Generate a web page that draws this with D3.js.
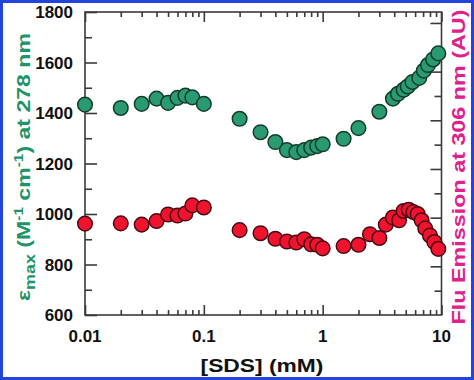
<!DOCTYPE html>
<html><head><meta charset="utf-8">
<script src="https://cdn.jsdelivr.net/npm/d3@7"></script>
<style>html,body{margin:0;padding:0;background:#fff;}svg{display:block;}</style>
</head><body>
<svg id="c" width="474" height="380"></svg>
<script>
const greenX = [0.01,0.02,0.03,0.04,0.05,0.06,0.07,0.08,0.1,0.2,0.3,0.4,0.5,0.6,0.7,0.8,0.9,1.0,1.5,2,3,3.9,4.3,4.8,5.2,5.7,6.5,7.1,7.7,8.5,9.4];
const greenY = [1433,1420,1436,1457,1440,1460,1469,1462,1436,1377,1324,1285,1253,1245,1253,1263,1269,1276,1298,1340,1405,1457,1476,1492,1505,1523,1539,1568,1590,1612,1636];
const redX = [0.01,0.02,0.03,0.04,0.05,0.06,0.07,0.08,0.1,0.2,0.3,0.4,0.5,0.6,0.7,0.8,0.9,1.0,1.5,2,2.5,3,3.4,3.9,4.4,4.8,5.3,5.8,6.3,6.8,7.3,8,8.7,9.4];
const redY = [962,963,958,972,998,994,1002,1034,1026,936,924,902,891,887,900,880,878,864,873,878,920,905,958,986,975,1012,1017,1008,1000,975,943,915,889,862];
const xTickLabels = ["0.01","0.1","1","10"];
const xTickValues = [0.01,0.1,1,10];
const yTickValues = [600,800,1000,1200,1400,1600,1800];
const leftTitle = ["ε","max"," (M","-1"," cm","-1",") at 278 nm"];
const rightTitle = "Flu Emission at 306 nm (AU)";
const xTitle = "[SDS] (mM)";

const W = 474, H = 380;
const L = 85, R = 441.5, T = 12, B = 315;
const font = "'Liberation Sans', Arial, Helvetica, sans-serif";
const svg = d3.select("#c");

// border
svg.append("rect").attr("x",1.5).attr("y",1.5).attr("width",W-3).attr("height",H-3)
  .attr("fill","#fff").attr("stroke","#2243dc").attr("stroke-width",3);

const x = d3.scaleLog().domain([0.01,10]).range([L,R]);
const y = d3.scaleLinear().domain([600,1800]).range([B,T]);
const yR = d3.scaleLinear().domain([0,1245]).range([B,T]);

const axisColor = "#3a3a3a";
const minorX = [];
for (let d=0.01; d<10; d*=10) for (let k=2;k<=9;k++) minorX.push(d*k);

function styleAxis(g){
  g.select(".domain").remove();
  g.selectAll("line").attr("stroke",axisColor).attr("stroke-width",1.6);
}
// bottom
svg.append("g").attr("transform",`translate(0,${B})`)
  .call(d3.axisTop(x).tickValues(xTickValues).tickSize(10).tickFormat(""))
  .call(styleAxis);
svg.append("g").attr("transform",`translate(0,${B})`)
  .call(d3.axisTop(x).tickValues(minorX).tickSize(5).tickFormat(""))
  .call(styleAxis);
// top
svg.append("g").attr("transform",`translate(0,${T})`)
  .call(d3.axisBottom(x).tickValues(xTickValues).tickSize(10).tickFormat(""))
  .call(styleAxis);
svg.append("g").attr("transform",`translate(0,${T})`)
  .call(d3.axisBottom(x).tickValues(minorX).tickSize(5).tickFormat(""))
  .call(styleAxis);
// left
svg.append("g").attr("transform",`translate(${L},0)`)
  .call(d3.axisRight(y).tickValues(yTickValues).tickSize(12).tickFormat(""))
  .call(styleAxis);
svg.append("g").attr("transform",`translate(${L},0)`)
  .call(d3.axisRight(y).tickValues(d3.range(700,1800,200)).tickSize(7).tickFormat(""))
  .call(styleAxis);
// right
svg.append("g").attr("transform",`translate(${R},0)`)
  .call(d3.axisLeft(yR).tickValues(d3.range(200,1245,200)).tickSize(11).tickFormat(""))
  .call(styleAxis);
svg.append("g").attr("transform",`translate(${R},0)`)
  .call(d3.axisLeft(yR).tickValues(d3.range(100,1245,200)).tickSize(7).tickFormat(""))
  .call(styleAxis);

// frame
svg.append("rect").attr("x",L).attr("y",T).attr("width",R-L).attr("height",B-T)
  .attr("fill","none").attr("stroke",axisColor).attr("stroke-width",1.6);

// tick labels
svg.append("g").selectAll("text").data(yTickValues).join("text")
  .attr("x",73).attr("y",d=>y(d)).attr("dy","0.36em").attr("text-anchor","end")
  .attr("font-family",font).attr("font-weight","bold").attr("font-size",17).attr("fill","#111")
  .text(d=>d);
svg.append("g").selectAll("text").data(xTickValues).join("text")
  .attr("x",d=>x(d)).attr("y",342).attr("text-anchor","middle")
  .attr("font-family",font).attr("font-weight","bold").attr("font-size",17).attr("fill","#111")
  .text((d,i)=>xTickLabels[i]);

// helper: stretch text group to target length
function fit(g, textSel, target){
  const len = textSel.node().getComputedTextLength();
  return target/len;
}

// x title
{
  const g = svg.append("g");
  const t = g.append("text").attr("text-anchor","middle").attr("font-family",font)
    .attr("font-weight","bold").attr("font-size",19).attr("fill","#111").text(xTitle);
  const k = fit(g,t,123);
  g.attr("transform",`translate(262,372) scale(${k},1)`);
}
// right title
{
  const g = svg.append("g");
  const t = g.append("text").attr("text-anchor","middle").attr("font-family",font)
    .attr("font-weight","bold").attr("font-size",18).attr("fill","#e0208c").text(rightTitle);
  const k = fit(g,t,315);
  g.attr("transform",`translate(465,167) rotate(-90) scale(${k},1)`);
}
// left title
{
  const g = svg.append("g");
  const t = g.append("text").attr("text-anchor","middle").attr("font-family",font)
    .attr("font-weight","bold").attr("font-size",18).attr("fill","#1e9468");
  leftTitle.forEach((s,i)=>{
    const ts = t.append("tspan").text(s);
    if (i===1) ts.attr("font-size",14).attr("dy",5);
    else if (i===2) ts.attr("dy",-5);
    else if (i===3 || i===5) ts.attr("font-size",12).attr("dy",-7);
    else if (i===4 || i===6) ts.attr("dy",7);
  });
  const k = fit(g,t,268);
  g.attr("transform",`translate(30,167) rotate(-90) scale(${k},1)`);
}

// points
const gPts = svg.append("g");
gPts.selectAll("circle.g").data(greenX.map((v,i)=>[v,greenY[i]])).join("circle")
  .attr("class","g").attr("cx",d=>x(d[0])).attr("cy",d=>y(d[1])).attr("r",7.3)
  .attr("fill","#2a9a70").attr("stroke","#123d2d").attr("stroke-width",1.5);
gPts.selectAll("circle.r").data(redX.map((v,i)=>[v,redY[i]])).join("circle")
  .attr("class","r").attr("cx",d=>x(d[0])).attr("cy",d=>y(d[1])).attr("r",7.3)
  .attr("fill","#f0132e").attr("stroke","#4a0a14").attr("stroke-width",1.5);
</script>
</body></html>
